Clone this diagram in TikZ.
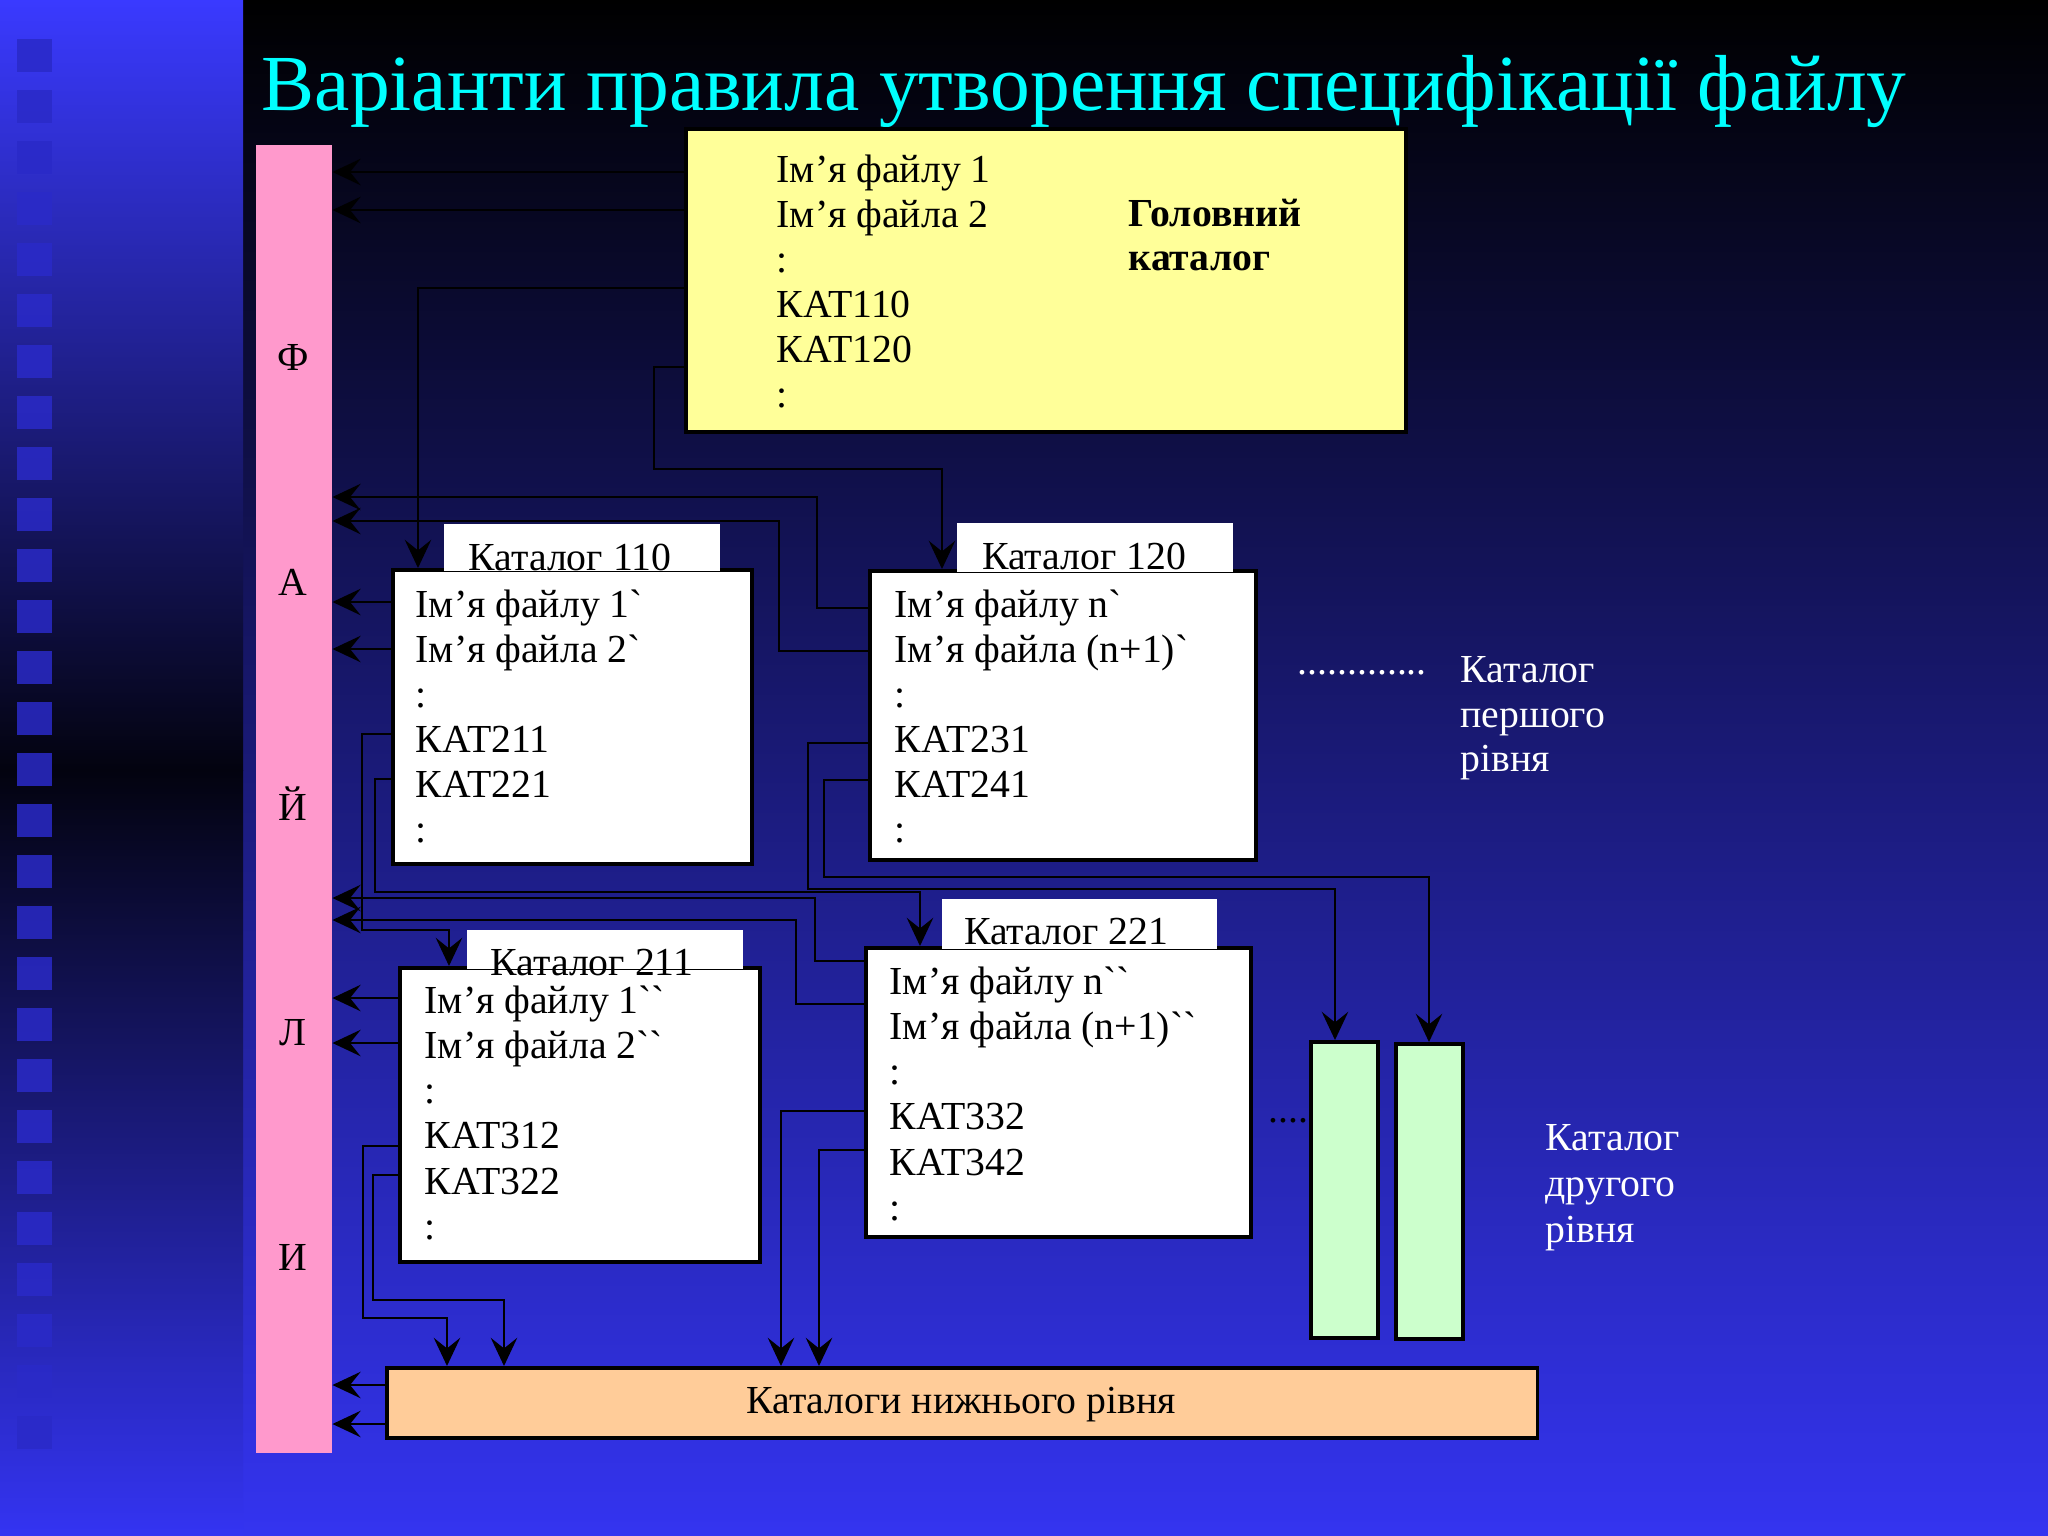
\documentclass[tikz,border=0pt]{standalone}
\usepackage{fontspec}
\setmainfont{Liberation Serif}
\usetikzlibrary{arrows.meta}

\definecolor{titlecyan}{HTML}{00FFFF}
\definecolor{pinkbar}{HTML}{FF99CC}
\definecolor{rootyellow}{HTML}{FFFF99}
\definecolor{lvlgreen}{HTML}{CCFFCC}
\definecolor{loworange}{HTML}{FFCC99}
\definecolor{bgblue}{HTML}{3434F0}
\definecolor{bandtop}{HTML}{3A3AFF}
\definecolor{bandmid}{HTML}{03030F}
\definecolor{bandbot}{HTML}{3434F2}
\definecolor{squareblue}{HTML}{2A2AC8}

\newcommand{\txtsize}{\fontsize{11.3pt}{12.6pt}\selectfont}
\newcommand{\titlesize}{\fontsize{22.6pt}{26pt}\selectfont}

\tikzset{
  arr/.style={-{Stealth[length=8pt,width=7.5pt,inset=3pt]},line width=0.8pt},
  box/.style={draw=black,line width=1pt,inner sep=0,anchor=north west},
  tab/.style={fill=white,inner sep=0,anchor=north west},
  txt/.style={font=\txtsize,inner sep=0,anchor=base west},
}

\begin{document}
\begin{tikzpicture}[x=0.01cm,y=-0.01cm]
 \useasboundingbox (0,0) rectangle (2048,1536);
 % background
 \shade[top color=black,bottom color=bgblue] (243,0) rectangle (2048,1536);
 \shade[top color=bandtop,bottom color=bandmid] (0,0) rectangle (243,770);
 \shade[top color=bandmid,bottom color=bandbot] (0,770) rectangle (243,1536);
 \foreach \y in {0,...,27} {
  \fill[squareblue,fill opacity=0.85] (17,{39+51*\y}) rectangle ++(35,33);
 }

 % title
 \node[anchor=base west,inner sep=0,font=\titlesize,text=titlecyan] (title) at (261,110) {Варіанти правила утворення специфікації файлу};

 % files bar
 \node[fill=pinkbar,inner sep=0,anchor=north west,minimum width=0.76cm,minimum height=13.08cm] (files) at (255,144) {};
 \foreach \l [count=\i] in {Ф,А,Й,Л,И}
  \node[txt,anchor=base] (fl\i) at (293,{145+225*\i}) {\l};

 % boxes
 \node[box,fill=rootyellow,minimum width=7.20cm,minimum height=3.03cm] (root) at (684,127) {};
 \node[box,fill=white,minimum width=3.59cm,minimum height=2.94cm] (c110) at (391,568) {};
 \node[tab,minimum width=2.76cm,minimum height=0.47cm] (c110tab) at (443,523) {};
 \node[box,fill=white,minimum width=3.86cm,minimum height=2.89cm] (c120) at (868,569) {};
 \node[tab,minimum width=2.76cm,minimum height=0.49cm] (c120tab) at (956,522) {};
 \node[box,fill=white,minimum width=3.60cm,minimum height=2.94cm] (c211) at (398,966) {};
 \node[tab,minimum width=2.76cm,minimum height=0.39cm] (c211tab) at (466,929) {};
 \node[box,fill=white,minimum width=3.85cm,minimum height=2.89cm] (c221) at (864,946) {};
 \node[tab,minimum width=2.75cm,minimum height=0.50cm] (c221tab) at (941,898) {};
 \node[box,fill=lvlgreen,minimum width=0.67cm,minimum height=2.96cm] (g1) at (1309,1040) {};
 \node[box,fill=lvlgreen,minimum width=0.67cm,minimum height=2.95cm] (g2) at (1394,1042) {};
 \node[box,fill=loworange,minimum width=11.50cm,minimum height=0.70cm] (low) at (385,1366) {};

 % texts
 \foreach \t [count=\i] in {Ім’я файлу 1,Ім’я файла 2,:,КАТ110,КАТ120,:}
  \node[txt] (root-\i) at (776,{137+45*\i}) {\t};
 \node[txt,font=\txtsize\bfseries] (rootname1) at (1128,226) {Головний};
 \node[txt,font=\txtsize\bfseries] (rootname2) at (1128,270) {каталог};

 \node[txt,anchor=base] (c110name) at (570,570) {Каталог 110};
 \foreach \t [count=\i] in {Ім’я файлу 1\textasciigrave,Ім’я файла 2\textasciigrave,:,КАТ211,КАТ221,:}
  \node[txt] (c110-\i) at (415,{572+45*\i}) {\t};
 \node[txt,anchor=base] (c120name) at (1084,569) {Каталог 120};
 \foreach \t [count=\i] in {Ім’я файлу n\textasciigrave,Ім’я файла (n+1)\textasciigrave,:,КАТ231,КАТ241,:}
  \node[txt] (c120-\i) at (894,{572+45*\i}) {\t};
 \node[txt,anchor=base] (c211name) at (592,975) {Каталог 211};
 \foreach \t [count=\i] in {Ім’я файлу 1\textasciigrave\textasciigrave,Ім’я файла 2\textasciigrave\textasciigrave,:,КАТ312,КАТ322,:}
  \node[txt] (c211-\i) at (424,{968+45.2*\i}) {\t};
 \node[txt,anchor=base] (c221name) at (1066,944) {Каталог 221};
 \foreach \t [count=\i] in {Ім’я файлу n\textasciigrave\textasciigrave,Ім’я файла (n+1)\textasciigrave\textasciigrave,:,КАТ332,КАТ342,:}
  \node[txt] (c221-\i) at (889,{949+45.2*\i}) {\t};

 \node[txt,anchor=base] (lowname) at (961,1413) {Каталоги нижнього рівня};

 \node[txt,text=white] (dots1) at (1297,674) {.............};
 \foreach \t [count=\i] in {Каталог,першого,рівня}
  \node[txt,text=white] (lvl1-\i) at (1460,{638+44.5*\i}) {\t};
 \node[txt] (dots2) at (1268,1122) {....};
 \foreach \t [count=\i] in {Каталог,другого,рівня}
  \node[txt,text=white] (lvl2-\i) at (1545,{1104+46*\i}) {\t};

 % connectors to the files bar
 \foreach \n/\y in {root/172,root/210,c110/602,c110/649,c211/998,c211/1043,low/1385,low/1424}
  \draw[arr] (\n.west |- 0,\y) -- (files.east |- 0,\y);
 \draw[arr] (c120.west |- 0,608) -| (817,497) -- (files.east |- 0,497);
 \draw[arr] (c120.west |- 0,651) -| (779,521) -- (files.east |- 0,521);
 \draw[arr] (c221.west |- 0,961) -| (815,898) -- (files.east |- 0,898);
 \draw[arr] (c221.west |- 0,1004) -| (796,920) -- (files.east |- 0,920);

 % connectors to the catalogues
 \draw[arr] (root.west |- 0,288) -| (418,0 |- c110.north);
 \draw[arr] (root.west |- 0,367) -| (654,469) -| (942,0 |- c120.north);
 \draw[arr] (c110.west |- 0,734) -| (362,930) -| (449,0 |- c211.north);
 \draw[arr] (c110.west |- 0,779) -| (375,892) -| (920,0 |- c221.north);
 \draw[arr] (c120.west |- 0,743) -| (808,889) -| (1335,0 |- g1.north);
 \draw[arr] (c120.west |- 0,780) -| (824,877) -| (1429,0 |- g2.north);
 \draw[arr] (c211.west |- 0,1146) -| (363,1318) -| (447,0 |- low.north);
 \draw[arr] (c211.west |- 0,1175) -| (373,1300) -| (504,0 |- low.north);
 \draw[arr] (c221.west |- 0,1111) -| (781,0 |- low.north);
 \draw[arr] (c221.west |- 0,1150) -| (819,0 |- low.north);
\end{tikzpicture}
\end{document}
